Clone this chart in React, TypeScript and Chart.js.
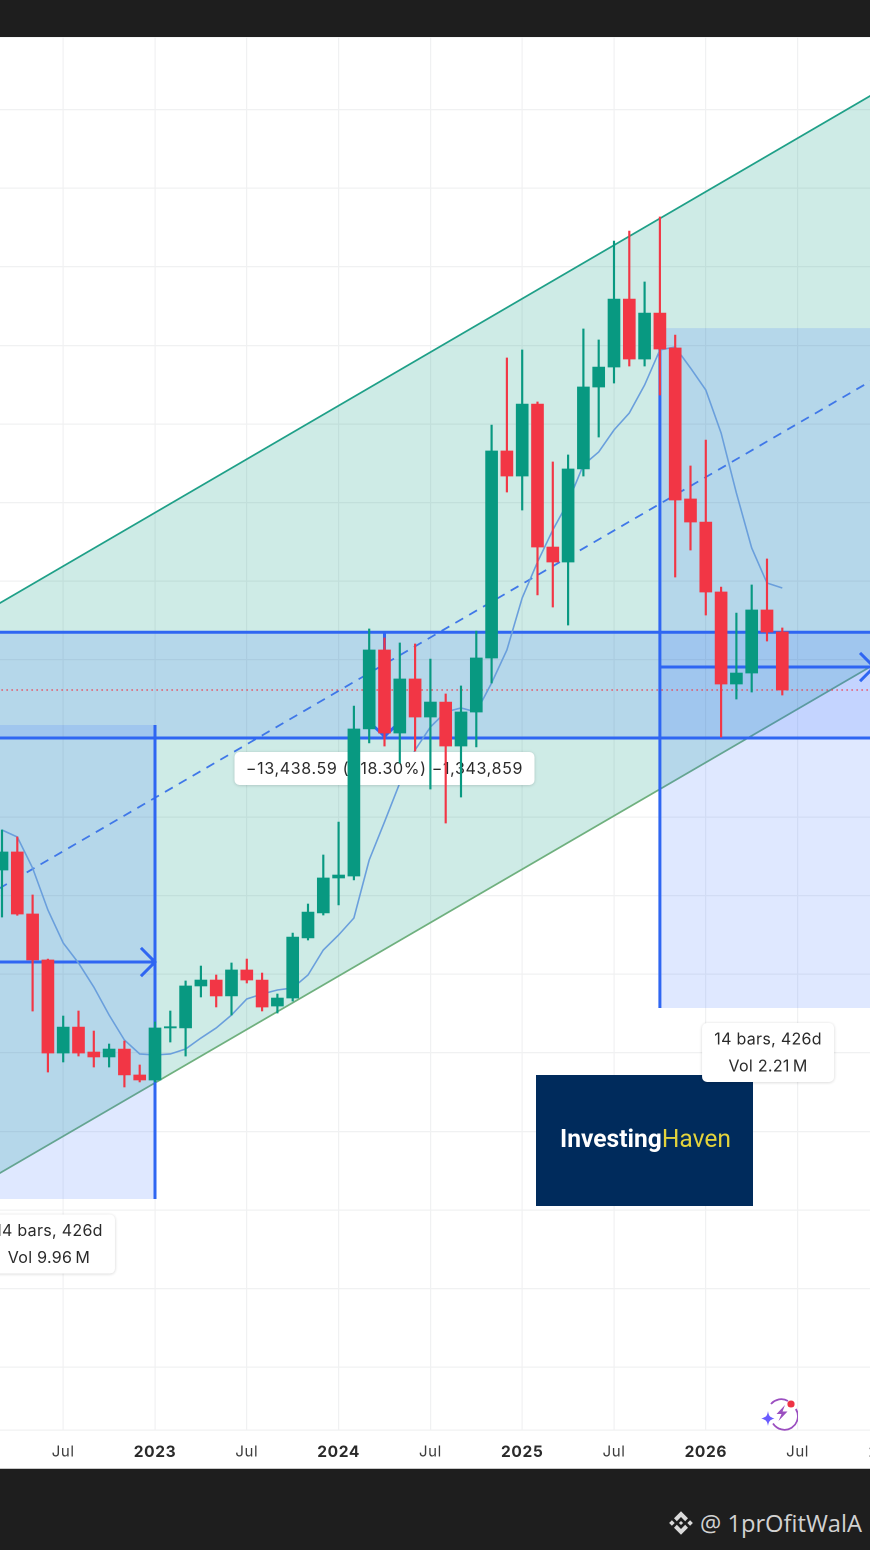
import React, { useEffect, useRef } from "react";
import { Chart, registerables } from "chart.js";

Chart.register(...registerables);

// Month index: 0 = January 2023. Prices in thousands of USD.
const months = [-10,-9,-8,-7,-6,-5,-4,-3,-2,-1,0,1,2,3,4,5,6,7,8,9,10,11,12,13,14,15,16,17,18,19,20,21,22,23,24,25,26,27,28,29,30,31,32,33,34,35,36,37,38,39,40,41];
const openK = [43.26,45.55,37.66,31.81,19.97,23.28,20.10,19.47,20.48,17.18,16.54,23.16,23.16,28.50,29.26,27.23,30.54,29.26,25.95,26.97,34.61,37.79,42.24,42.49,61.20,71.25,60.69,67.56,62.72,64.63,59.03,63.36,70.23,96.57,93.38,102.54,84.35,82.44,94.28,104.71,107.25,115.90,108.27,114.12,109.67,90.46,87.53,78.63,66.92,68.32,76.34,73.54];
const closeK = [45.55,37.66,31.81,19.97,23.28,19.97,19.47,20.48,17.18,16.54,23.16,23.32,28.50,29.26,27.23,30.54,29.26,25.83,26.97,34.73,37.91,42.24,42.62,61.20,71.25,60.69,67.56,62.72,64.63,59.03,63.36,70.23,96.57,93.38,102.54,84.35,82.44,94.28,104.71,107.25,115.90,108.27,114.12,109.54,90.33,87.53,78.63,66.92,68.32,76.34,73.54,66.16];
const highK = [48.35,47.46,40.08,31.93,24.68,25.32,22.77,21.12,21.50,18.45,23.92,25.32,29.14,31.04,29.90,31.43,31.93,30.15,27.48,35.24,38.93,45.17,49.36,64.12,73.92,72.78,72.14,72.01,70.10,65.65,66.67,73.66,99.87,108.40,109.42,102.80,95.17,96.06,112.09,110.69,123.28,124.55,118.07,126.34,111.32,94.66,97.96,79.26,75.95,79.52,82.83,74.05];
const lowK = [37.28,37.50,25.32,17.56,18.83,19.59,18.19,18.19,15.65,16.29,16.29,21.37,19.59,27.10,25.83,24.81,28.88,25.32,25.06,26.59,34.35,37.53,38.81,41.99,59.42,59.03,56.87,58.40,53.56,49.24,52.54,58.91,67.05,91.35,89.06,78.25,76.72,74.43,93.38,98.35,105.22,107.38,107.38,103.69,80.53,83.97,75.70,60.18,65.01,65.90,72.39,65.52];
const maK = [48.35,47.46,43.51,38.17,33.97,31.43,28.37,24.81,21.63,19.85,19.72,19.85,20.48,21.88,23.16,24.81,26.85,27.48,27.99,28.25,29.90,33.08,34.99,37.15,44.53,49.37,54.33,58.53,61.45,63.36,63.87,63.36,67.05,71.25,77.87,82.44,86.52,90.08,94.79,96.44,99.24,101.40,104.96,109.42,109.80,107.13,104.33,98.86,91.22,84.23,79.77,79.14];

const tickMonths = [-6,0,6,12,18,24,30,36,42,48];
const tickLabels = ["Jul","2023","Jul","2024","Jul","2025","Jul","2026","Jul","2027"];

const channelTop = [{x:-12,y:75.11},{x:50,y:145.44}];
const channelMid = [{x:-12,y:38.85},{x:50,y:109.11}];
const channelBottom = [{x:-12,y:2.59},{x:50,y:72.79}];

const lastPriceK = 66.16;
const rangeTopK = 73.5;
const rangeBottomK = 60.06;
const rangeArrowMonth = 15;

const box1 = { from:-14, to:0, top:61.7, bottom:1.4, mid:31.55 };
const box2 = { from:33, to:47, top:112.2, bottom:25.7, mid:69.08 };

const rangeLabel = "\u221213,438.59 (\u221218.30%) \u22121,343,859";
const box1Lines = ["14 bars, 426d", "Vol 9.96\u2009M"];
const box2Lines = ["14 bars, 426d", "Vol 2.21\u2009M"];
const logoParts = ["Investing", "Haven"];
const watermark = "@ 1prOfitWalA";

const GREEN = "#089981";
const RED = "#F23645";
const BLUE = "#2F66F2";
const BOXFILL = "rgba(41,98,255,0.15)";
const FONT = "Inter, sans-serif";

const line = (label: string, data: any[], color: string, width: number, order: number, extra: any = {}) => ({
  type: "line", label, data, borderColor: color, borderWidth: width, pointRadius: 0, pointHoverRadius: 0,
  tension: 0, order, fill: false, borderCapStyle: "butt", ...extra,
});

const hline = (from: number, to: number, y: number) => [{x:from,y},{x:to,y}];
const vline = (x: number, a: number, b: number) => [{x,y:a},{x,y:b}];
const arrowRight = (tip: number, y: number) => [{x:tip-0.92,y:y+1.8},{x:tip,y},{x:tip-0.92,y:y-1.8}];

function roundedBox(ctx: CanvasRenderingContext2D, x: number, y: number, w: number, h: number) {
  ctx.save();
  ctx.shadowColor = "rgba(0,0,0,0.18)";
  ctx.shadowBlur = 6;
  ctx.shadowOffsetY = 1;
  ctx.fillStyle = "#fff";
  ctx.beginPath();
  ctx.roundRect(x, y, w, h, 5);
  ctx.fill();
  ctx.restore();
}

function labelText(ctx: CanvasRenderingContext2D, s: string, x: number, y: number, spacing: number) {
  ctx.font = `400 16px ${FONT}`;
  (ctx as any).letterSpacing = `${spacing}px`;
  ctx.fillStyle = "#2a2a2a";
  ctx.textAlign = "center";
  ctx.textBaseline = "middle";
  ctx.fillText(s, x, y);
}

const annotations = {
  id: "annotations",
  beforeDraw(chart: any) {
    (chart.ctx as any).letterSpacing = "0.6px";
  },
  beforeDatasetDraw(chart: any, args: any) {
    const ds = chart.data.datasets[args.index];
    if (ds.label !== "Wicks") return;
    const { ctx, scales } = chart;
    ctx.save();
    // Investing Haven logo
    ctx.fillStyle = "#002B5C";
    ctx.fillRect(536, 1075, 217, 131);
    (ctx as any).letterSpacing = "0px";
    ctx.textAlign = "left";
    ctx.textBaseline = "alphabetic";
    ctx.font = "700 24.6px Roboto, sans-serif";
    ctx.fillStyle = "#FFFFFF";
    ctx.fillText(logoParts[0], 560, 1147);
    const w = ctx.measureText(logoParts[0]).width;
    ctx.font = "400 24.6px Roboto, sans-serif";
    ctx.fillStyle = "#E3D33C";
    ctx.fillText(logoParts[1], 560 + w, 1147);

    const cx = scales.x.getPixelForValue(rangeArrowMonth);
    const cy = scales.y.getPixelForValue(56.17);
    roundedBox(ctx, cx - 150, cy - 16.5, 300, 33);
    labelText(ctx, rangeLabel, cx, cy + 0.5, 0.65);

    const b2x = scales.x.getPixelForValue(40.07);
    const b2y = scales.y.getPixelForValue(20.04);
    roundedBox(ctx, b2x - 66, b2y - 29.5, 132, 59);
    labelText(ctx, box2Lines[0], b2x, b2y - 13, 0.3);
    labelText(ctx, box2Lines[1], b2x, b2y + 14, 0.3);

    const b1x = scales.x.getPixelForValue(-6.93);
    const b1y = scales.y.getPixelForValue(-4.33);
    roundedBox(ctx, b1x - 66, b1y - 29.5, 132, 59);
    labelText(ctx, box1Lines[0], b1x, b1y - 13, 0.3);
    labelText(ctx, box1Lines[1], b1x, b1y + 14, 0.3);
    ctx.restore();
  },
};

export default function App() {
  const ref = useRef<HTMLCanvasElement>(null);
  useEffect(() => {
    document.body.style.margin = "0";
    const up = months.map((_, i) => closeK[i] >= openK[i]);
    const colors = up.map((u) => (u ? GREEN : RED));
    const chart = new Chart(ref.current as HTMLCanvasElement, {
      type: "line",
      data: {
        datasets: [
          { type: "bar", label: "Bodies", grouped: false, order: 1, barThickness: 12, backgroundColor: colors,
            data: months.map((m, i) => ({ x: m, y: [openK[i], closeK[i]] })) },
          { type: "bar", label: "Wicks", grouped: false, order: 2, barThickness: 1.5, backgroundColor: colors,
            data: months.map((m, i) => ({ x: m, y: [lowK[i], highK[i]] })) },
          line("MA", months.map((m, i) => ({ x: m, y: maK[i] })), "#6A9FDC", 1.6, 3),
          line("Last price", hline(-12, 50, lastPriceK), "#F23645", 1.2, 4, { borderDash: [1.5, 3.5] }),
          line("Range arrow", vline(rangeArrowMonth, rangeTopK, rangeBottomK + 0.2), BLUE, 3, 5),
          line("Range head", [{x:rangeArrowMonth-0.65,y:rangeBottomK+1.4},{x:rangeArrowMonth,y:rangeBottomK+0.2},{x:rangeArrowMonth+0.65,y:rangeBottomK+1.4}], BLUE, 3, 5),
          line("Range top", hline(-12, 50, rangeTopK), BLUE, 3, 6),
          line("Range bottom", hline(-12, 50, rangeBottomK), BLUE, 3, 6),
          line("Box1 edge", vline(box1.to, box1.top, box1.bottom), BLUE, 3, 6),
          line("Box1 mid", hline(box1.from, box1.to, box1.mid), BLUE, 3, 6),
          line("Box1 head", arrowRight(box1.to, box1.mid), BLUE, 3, 6),
          line("Box2 edge", vline(box2.from, box2.top, box2.bottom), BLUE, 3, 6),
          line("Box2 mid", hline(box2.from, box2.to, box2.mid), BLUE, 3, 6),
          line("Box2 head", arrowRight(box2.to, box2.mid), BLUE, 3, 6),
          line("Channel mid", channelMid, "#3F77E8", 1.8, 7, { borderDash: [9, 7] }),
          line("Range fill", hline(-12, 50, rangeTopK), "transparent", 0, 8, { fill: { value: rangeBottomK }, backgroundColor: BOXFILL }),
          line("Box1 fill", hline(box1.from, box1.to, box1.top), "transparent", 0, 8, { fill: { value: box1.bottom }, backgroundColor: BOXFILL }),
          line("Box2 fill", hline(box2.from, box2.to, box2.top), "transparent", 0, 8, { fill: { value: box2.bottom }, backgroundColor: BOXFILL }),
          line("Channel bottom", channelBottom, "#6FB07E", 1.8, 9),
          line("Channel top", channelTop, "#1FA088", 1.8, 9, { fill: "-1", backgroundColor: "rgba(8,153,129,0.2)" }),
        ] as any,
      },
      options: {
        animation: false,
        responsive: false,
        devicePixelRatio: 2,
        parsing: undefined,
        layout: { padding: { top: 37, bottom: 82, left: 0, right: 0 } },
        plugins: { legend: { display: false }, tooltip: { enabled: false } },
        events: [],
        scales: {
          x: {
            type: "linear", offset: false, min: -10.131, max: 50.654,
            border: { display: false },
            grid: { offset: false, color: "#F0F1F2", lineWidth: 1.2, drawTicks: false },
            afterBuildTicks: (s: any) => { s.ticks = tickMonths.map((value) => ({ value })); },
            afterFit: (s: any) => { s.height = 38; },
            ticks: {
              autoSkip: false, maxRotation: 0, padding: 13,
              callback: (v: any) => tickLabels[tickMonths.indexOf(v)],
              color: (c: any) => (tickMonths.indexOf(c.tick?.value) % 2 === 1 ? "#2a2a2a" : "#3c3c3c"),
              font: (c: any) => {
                const year = tickMonths.indexOf(c.tick?.value) % 2 === 1;
                return { family: FONT, size: year ? 15.5 : 15, weight: year ? "700" : "400" };
              },
            },
          },
          y: {
            type: "linear", min: -27.99, max: 149.24,
            border: { display: false },
            grid: { color: "#F0F1F2", lineWidth: 1.2, drawTicks: false },
            ticks: { display: false, stepSize: 10 },
            afterFit: (s: any) => { s.width = 0; },
          },
        },
      } as any,
      plugins: [annotations],
    });
    return () => chart.destroy();
  }, []);

  return (
    <div style={{ position: "relative", width: 870, height: 1550, overflow: "hidden", background: "#fff" }}>
      <canvas ref={ref} width={930} height={1550} style={{ display: "block", position: "absolute", left: 0, top: 0, width: 930, height: 1550 }} />
      <div style={{ position: "absolute", left: 0, top: 0, width: 870, height: 37, background: "#1E1E1E" }} />
      <div style={{ position: "absolute", left: 0, top: 1468, width: 870, height: 82, background: "#1E1E1E", borderTop: "1px solid #c8c8c8", boxSizing: "border-box" }} />
      <svg style={{ position: "absolute", left: 667, top: 1509 }} width="28" height="28" viewBox="0 0 24 24" fill="#DADADA">
        <path d="M12 2L18 8L15.6 10.4L12 6.8L8.4 10.4L6 8Z" />
        <path d="M12 22L18 16L15.6 13.6L12 17.2L8.4 13.6L6 16Z" />
        <path d="M4.2 9.6L6.6 12L4.2 14.4L1.8 12Z" />
        <path d="M19.8 9.6L22.2 12L19.8 14.4L17.4 12Z" />
        <path d="M12 10.2L13.8 12L12 13.8L10.2 12Z" />
      </svg>
      <div style={{ position: "absolute", left: 700, top: 1506, fontFamily: "'Open Sans', sans-serif", fontSize: 23.7, lineHeight: "34px", color: "#D2D2D2", whiteSpace: "nowrap" }}>{watermark}</div>
      <svg style={{ position: "absolute", left: 758, top: 1396 }} width="40" height="36" viewBox="0 0 40 36">
        <path d="M13 8 A13.5 13.5 0 0 1 30 5" fill="none" stroke="#9B4FC0" strokeWidth="1.8" />
        <path d="M37.8 13 A13.5 13.5 0 0 1 15 27.5" fill="none" stroke="#9B4FC0" strokeWidth="1.8" />
        <path d="M27 9L18.5 18H23.5L20.5 25L29.5 15.5H24.5Z" fill="#9B4FC0" />
        <circle cx="33" cy="8" r="3.6" fill="#EE3344" />
        <path d="M10 15C10.7 19.5 11.5 21 16.5 22.5C11.5 24 10.7 25.5 10 30C9.3 25.5 8.5 24 3.2 22.5C8.5 21 9.3 19.5 10 15Z" fill="#6A5CFF" />
      </svg>
    </div>
  );
}
